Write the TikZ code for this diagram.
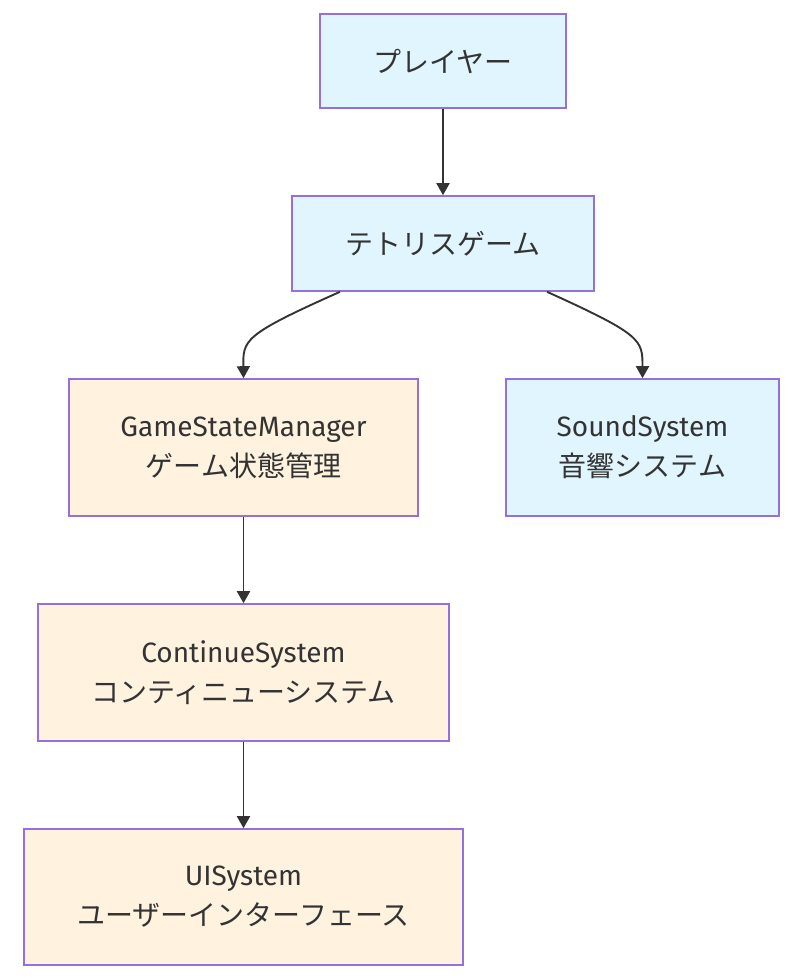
\documentclass[tikz,border=0pt]{standalone}
\usepackage{fontspec}
\setmainfont{Fira Sans}
\newfontfamily\jp{Noto Sans CJK JP}
\usetikzlibrary{arrows.meta}
\definecolor{bluefill}{HTML}{E1F5FE}
\definecolor{orangefill}{HTML}{FFF3E0}
\definecolor{boxline}{HTML}{9370DB}
\definecolor{txt}{HTML}{333333}
\tikzset{
  box/.style={draw=boxline, line width=1.6pt, inner sep=0pt, align=center, text=txt,
    font=\fontsize{28}{40}\selectfont},
  bluebox/.style={box, fill=bluefill},
  orangebox/.style={box, fill=orangefill},
  conn/.style={draw=txt, line width=1.9pt, -{Triangle[length=12pt,width=13pt]}}
}
\begin{document}
\begin{tikzpicture}[x=1pt,y=-1pt]
\useasboundingbox (0,0) rectangle (803,980);
\node[bluebox, minimum width=246pt, minimum height=94pt] (player) at (443,61) {\jp プレイヤー};
\node[bluebox, minimum width=302pt, minimum height=95pt] (game) at (443,243.5) {\jp テトリスゲーム};
\node[orangebox, minimum width=349pt, minimum height=137pt] (gsm) at (243.5,447.5) {GameStateManager\\{\jp ゲーム状態管理}};
\node[bluebox, minimum width=273pt, minimum height=137pt] (sound) at (642.5,447.5) {SoundSystem\\{\jp 音響システム}};
\node[orangebox, minimum width=411pt, minimum height=137pt] (cont) at (243.5,672.5) {ContinueSystem\\{\jp コンティニューシステム}};
\node[orangebox, minimum width=439pt, minimum height=136pt] (ui) at (243.5,897) {UISystem\\{\jp ユーザーインターフェース}};
\draw[conn] (player) -- (game);
\draw[conn] (game.south -| 340,0) .. controls (243,335) and (243,340) .. (gsm.north);
\draw[conn] (game.south -| 547,0) .. controls (642.5,335) and (642.5,340) .. (sound.north);
\draw[conn] (gsm) -- (cont);
\draw[conn] (cont) -- (ui);
\end{tikzpicture}
\end{document}
